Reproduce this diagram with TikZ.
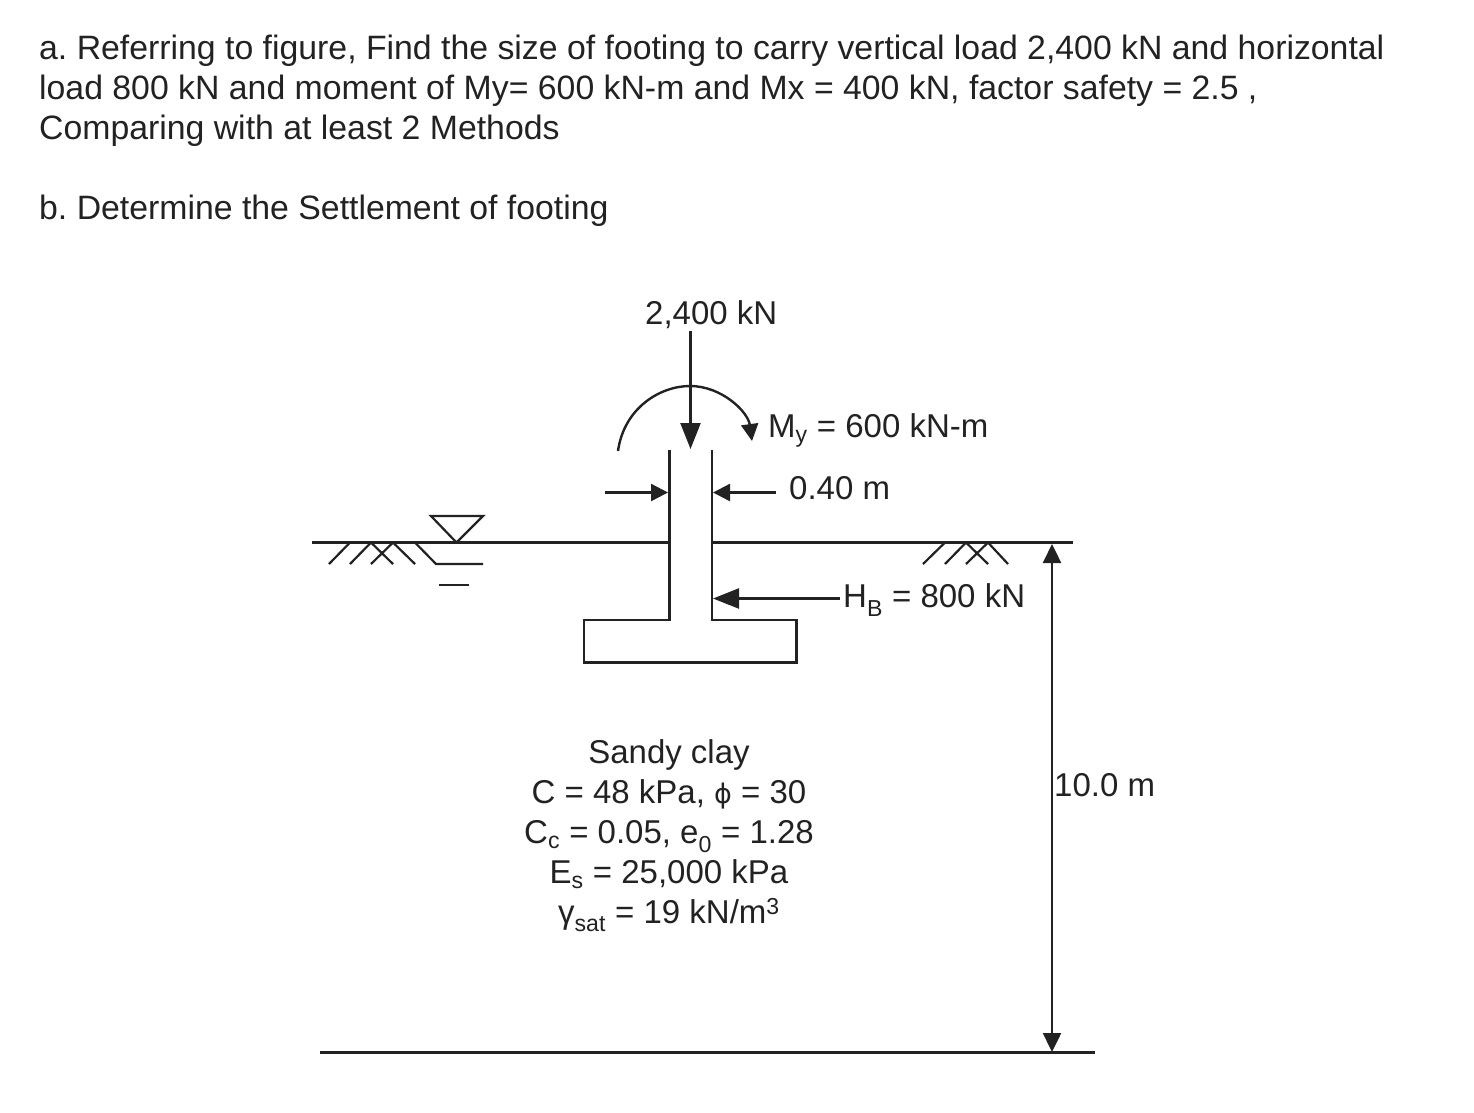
\documentclass[tikz,border=0pt]{standalone}
\usepackage{fontspec}
\setmainfont{Liberation Sans}
\newfontfamily\symfont{DejaVu Sans}
\usetikzlibrary{arrows.meta}
\definecolor{ink}{HTML}{222222}
\newcommand{\sub}[1]{\raisebox{-2pt}{\textsubscript{#1}}}
\tikzset{
  member/.style={line width=2.4pt,draw=ink,line join=miter},
  thin tick/.style={line width=2.2pt,draw=ink},
  load/.style={member,-{Triangle[length=26pt,width=20pt]}},
  load small/.style={member,-{Triangle[length=17pt,width=17pt]}},
  question/.style={anchor=north west,align=left,inner sep=0pt,font=\fontsize{33.8}{40}\selectfont,text=ink},
  label/.style={anchor=base west,inner sep=0pt,font=\fontsize{33}{40}\selectfont,text=ink},
}
\begin{document}
\frenchspacing
\begin{tikzpicture}[x=1pt,y=-1pt]
\useasboundingbox (0,0) rectangle (1474,1112);
% question text
\node[question] (parta) at (39,34.5) {a. Referring to figure, Find the size of footing to carry vertical load 2,400 kN and horizontal\\
load 800 kN and moment of My= 600 kN-m and Mx = 400 kN, factor safety = 2.5 ,\\
Comparing with at least 2 Methods};
\node[question] (partb) at (39,194.5) {b. Determine the Settlement of footing};
% column and footing
\draw[member] (669.5,450) -- (669.5,620) -- (584,620) -- (584,662.5) -- (796.5,662.5) -- (796.5,620) -- (712,620) -- (712,450);
% ground and base
\draw[member] (312,542.5) -- (669.5,542.5);
\draw[member] (712,542.5) -- (1073,542.5);
\draw[member] (320,1052.5) -- (1095,1052.5);
% ground hatching
\foreach \xa/\xb in {350/329,371/350,393/371,371/393,393/415,966/945,945/923,988/966,966/988,988/1008}
  \draw[thin tick] (\xa,542.5) -- (\xb,564);
\draw[thin tick] (415,542.5) -- (436,564) -- (483,564);
\draw[thin tick] (439,585) -- (469,585);
\draw[thin tick] (431,516) -- (483,516) -- (456.5,542.5) -- cycle;
% labels
\node[label] (axial) at (645,324) {2,400 kN};
\node[label] (moment) at (768,437) {M\sub{y} = 600 kN-m};
\node[label] (width) at (789,499) {0.40 m};
\node[label] (shear) at (843,607) {H\sub{B} = 800 kN};
\node[label] (depth) at (1054,796) {10.0 m};
\node[label,anchor=north,align=center] (soil) at (669,739) {Sandy clay\\
C = 48 kPa, {\symfont\fontsize{27}{40}\selectfont ϕ} = 30\\
C\sub{c} = 0.05, e\sub{0} = 1.28\\
E\sub{s} = 25,000 kPa\\
γ\sub{sat} = 19 kN/m\textsuperscript{3}};
% arrow ends
\coordinate (axialtop) at (690.5,331);
\coordinate (axialtip) at (690.5,449);
\coordinate (arcstart) at (618,451);
\coordinate (arctip) at (752,441);
\coordinate (widthl) at (605,492.5);
\coordinate (widthlt) at (668,492.5);
\coordinate (widthr) at (776,492.5);
\coordinate (widthrt) at (713,492.5);
\coordinate (shearend) at (840,598.5);
\coordinate (sheartip) at (713,598.5);
\coordinate (depthtop) at (1052,544);
\coordinate (depthbot) at (1052,1052);
\draw[load] (axialtop) -- (axialtip);
\draw[load small] (arcstart) .. controls (624,408) and (660,386) .. (690,386) .. controls (722,386) and (748,412) .. (arctip);
\draw[load small] (widthl) -- (widthlt);
\draw[load small] (widthr) -- (widthrt);
\draw[load] (shearend) -- (sheartip);
\draw[load small,{Triangle[length=19pt,width=18pt]}-{Triangle[length=19pt,width=18pt]}] (depthtop) -- (depthbot);
\end{tikzpicture}
\end{document}
